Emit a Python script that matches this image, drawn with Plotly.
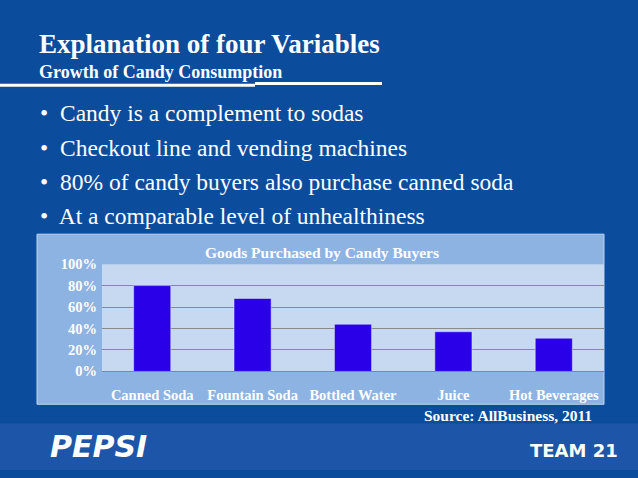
import plotly.graph_objects as go

categories = ['Canned Soda', 'Fountain Soda', 'Bottled Water', 'Juice', 'Hot Beverages']
values = [0.80, 0.68, 0.44, 0.37, 0.31]
bullets = [
    'Candy is a complement to sodas',
    'Checkout line and vending machines',
    '80% of candy buyers also purchase canned soda',
    'At a comparable level of unhealthiness',
]

W, H = 638, 478
def px(x): return x / W
def py(y): return 1 - y / H

serif = 'Liberation Serif, Times New Roman, serif'

fig = go.Figure(go.Bar(x=categories, y=values, marker_color='#2a00e8', width=0.37))

shapes = [
    # chart frame and plot background
    dict(type='rect', xref='paper', yref='paper', x0=px(37), x1=px(604), y0=py(410), y1=py(234),
         fillcolor='#8db3e2', line=dict(color='#c0d4ee', width=1), layer='below'),
    dict(type='rect', xref='paper', yref='paper', x0=px(102), x1=px(604), y0=py(376), y1=py(265),
         fillcolor='#c6d9f0', line_width=0, layer='below'),
    # title underline
    dict(type='line', xref='paper', yref='paper', x0=0, x1=px(255), y0=py(80), y1=py(80),
         line=dict(color='white', width=3)),
    dict(type='line', xref='paper', yref='paper', x0=px(255), x1=px(382), y0=py(78), y1=py(78),
         line=dict(color='white', width=3)),
    # bottom banner
    dict(type='rect', xref='paper', yref='paper', x0=0, x1=1, y0=0, y1=py(430),
         fillcolor='#1d56a8', line_width=0, layer='below'),
]

ann = [
    dict(text='<b>Explanation of four Variables</b>', x=px(37), y=py(37), size=27),
    dict(text='<b>Growth of Candy Consumption</b>', x=px(37), y=py(66), size=18),
    dict(text='<b>Goods Purchased by Candy Buyers</b>', x=px(322), y=py(253), size=15.5, xanchor='center'),
    dict(text='<b>Source: AllBusiness, 2011</b>', x=px(594), y=py(422), size=15.5, xanchor='right'),
    dict(text='<b><i>PEPSI</i></b>', x=px(48), y=py(454), size=30, font='Arial Black, DejaVu Sans, sans-serif'),
    dict(text='<b>TEAM 21</b>', x=px(620), y=py(458), size=18, xanchor='right',
         font='DejaVu Sans, sans-serif'),
]
for i, b in enumerate(bullets):
    ann.append(dict(text='•  ' + b, x=px(38), y=py(109 + i * 35.5), size=23.5))

annotations = [
    dict(text=a['text'], x=a['x'], y=a['y'], xref='paper', yref='paper', showarrow=False,
         xanchor=a.get('xanchor', 'left'), yanchor='middle',
         font=dict(family=a.get('font', serif), size=a['size'], color='white'))
    for a in ann
]

fig.update_layout(
    width=W, height=H, margin=dict(l=0, r=0, t=0, b=0),
    paper_bgcolor='#0b4c9c', plot_bgcolor='rgba(0,0,0,0)',
    showlegend=False, shapes=shapes, annotations=annotations,
    xaxis=dict(domain=[px(102), px(604)], showgrid=False, showline=True, linecolor='#888',
               tickfont=dict(family=serif, size=14.5, color='white'), ticks='', ticklabelstandoff=10),
    yaxis=dict(domain=[py(376), py(265)], range=[0, 1], dtick=0.2, tickformat='.0%',
               gridcolor='#8a8a8a', zeroline=False, ticklabelstandoff=4,
               tickfont=dict(family=serif, size=14.5, color='white')),
)
fig.update_xaxes(tickprefix='<b>', ticksuffix='</b>')
fig.update_yaxes(tickprefix='<b>', ticksuffix='</b>')

fig.write_html('out.html', config={'displayModeBar': False},
               post_script="document.body.style.margin='0';")
